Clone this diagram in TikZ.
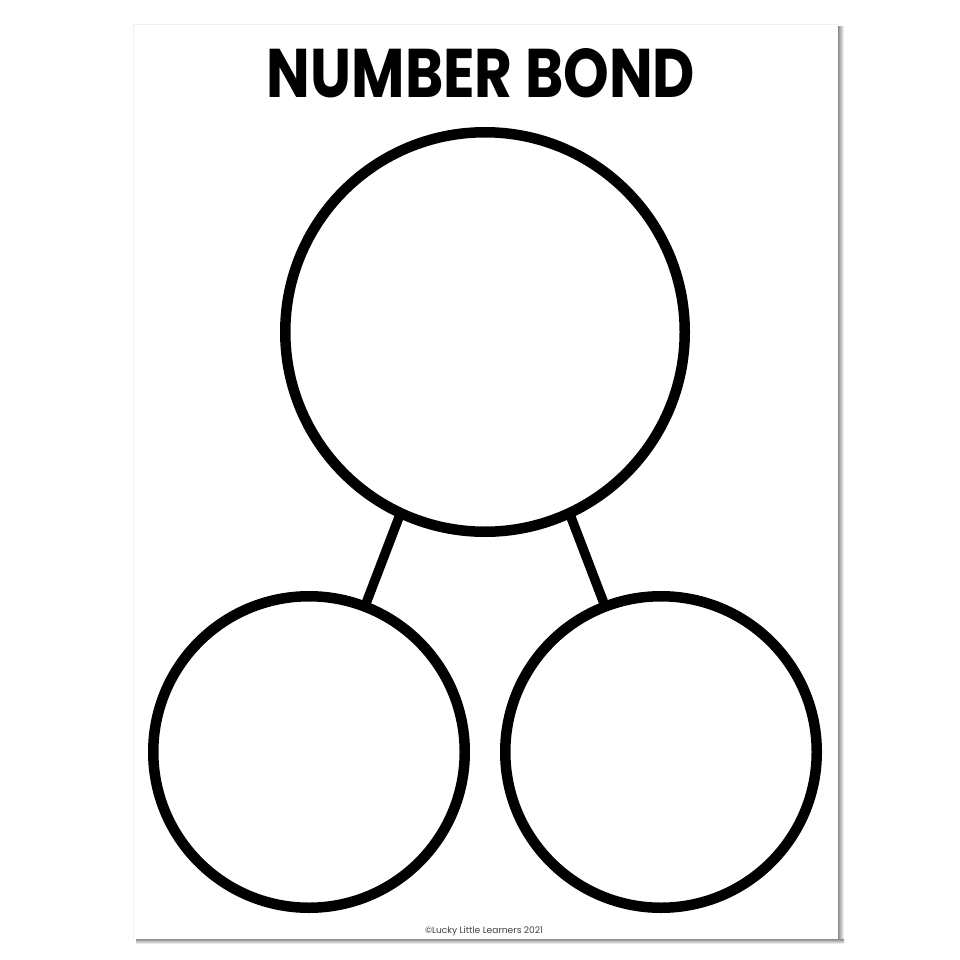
\documentclass[tikz,border=0pt]{standalone}
\usepackage{fontspec}
\setmainfont{Poppins}
\begin{document}
\begin{tikzpicture}[x=1pt,y=-1pt,
  bond/.style={circle, draw=black, line width=10.5pt, fill=none, inner sep=0pt, outer sep=0pt},
  link/.style={draw=black, line width=9.5pt, shorten <=-4pt, shorten >=-4pt}]
\useasboundingbox (0,0) rectangle (960,960);
\fill[white] (0,0) rectangle (960,960);
% page shadow
\shade[left color=black!45, right color=white] (838,27) rectangle (844,944);
\shade[top color=black!45, bottom color=white] (136,939) rectangle (844,944);
\fill[white] (133,24) rectangle (838,939);
\draw[black!6, line width=0.8pt] (133,939) -- (133,24) -- (838,24);
% title
\node[inner sep=0pt, anchor=north] (title) at (481,48) {\resizebox{428pt}{49pt}{\bfseries NUMBER BOND}};
% circles (centerline radius = outer radius - half stroke)
\node[bond, minimum size=399.5pt] (whole) at (485,332) {};
\node[bond, minimum size=311.5pt] (partA) at (309,752) {};
\node[bond, minimum size=311.5pt] (partB) at (661,752) {};
% connectors
\path[link] (whole.245) -- (partA.69);
\path[link] (whole.295) -- (partB.111);
% footer
\node[inner sep=0pt, text=black!75] (footer) at (484,931) {\resizebox{118pt}{!}{©Lucky Little Learners 2021}};
\end{tikzpicture}
\end{document}
